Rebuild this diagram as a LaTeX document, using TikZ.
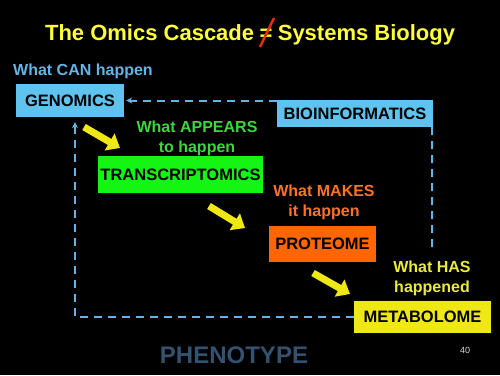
\documentclass[tikz,border=0pt]{standalone}
\usepackage{fontspec}
\setmainfont{Liberation Sans}
\usetikzlibrary{arrows.meta, calc, positioning}
\definecolor{myblue1}{RGB}{95, 195, 240}
\definecolor{myblue2}{RGB}{100, 180, 230}
\definecolor{mygreen1}{RGB}{20, 245, 20}
\definecolor{mygreen2}{RGB}{60, 215, 60}
\definecolor{myorange1}{RGB}{255, 102, 0}
\definecolor{myorange2}{RGB}{255, 115, 35}
\definecolor{myyellow1}{RGB}{240, 232, 20}
\definecolor{myyellow2}{RGB}{235, 235, 60}
\definecolor{mytitle}{RGB}{255, 255, 60}
\definecolor{myred1}{RGB}{230, 45, 20}
\definecolor{myslate}{RGB}{52, 82, 112}

\begin{document}
\begin{tikzpicture}[x=1pt, y=-1pt,
    omicsbox/.style={inner sep=0pt, text=black, font=\fontsize{16.5}{19}\selectfont\bfseries},
    whatlabel/.style={inner sep=0pt, align=center, font=\fontsize{16}{20}\selectfont\bfseries},
    titletext/.style={inner sep=0pt, text=mytitle, font=\fontsize{22}{25}\selectfont\bfseries},
    feedback/.style={myblue2, line width=2pt, dash pattern=on 8pt off 6pt},
    cascade/.style={myyellow1, line width=7pt, -{Triangle[length=12pt, width=19pt]}}]
% Background
\fill[black] (0,0) rectangle (500,375);
\useasboundingbox (0,0) rectangle (500,375);
% Title
\node[titletext, anchor=base] (eq) at (266,40) {=};
\node[titletext, anchor=base east] (tleft) at ([xshift=-5pt]eq.base west) {The Omics Cascade};
\node[titletext, anchor=base west] (tright) at ([xshift=5pt]eq.base east) {Systems Biology};
\draw[myred1, line width=2.5pt] ($(eq.base)+(8,-22)$) -- ($(eq.base)+(-6,7)$);
% Boxes
\node[omicsbox, fill=myblue1, minimum width=108pt, minimum height=33pt] (genomics) at (70,100.5) {GENOMICS};
\node[omicsbox, fill=myblue1, minimum width=156pt, minimum height=27pt] (bioinf) at (355,113.5) {BIOINFORMATICS};
\node[omicsbox, fill=mygreen1, minimum width=165pt, minimum height=37pt] (transcr) at (180.5,174.5) {TRANSCRIPTOMICS};
\node[omicsbox, fill=myorange1, minimum width=107pt, minimum height=36pt] (proteome) at (322.5,244) {PROTEOME};
\node[omicsbox, fill=myyellow1, minimum width=137pt, minimum height=32pt] (metabolome) at (422.5,317) {METABOLOME};
% Labels
\node[whatlabel, text=myblue2, anchor=west] (canlbl) at (13,71) {What CAN happen};
\node[whatlabel, text=mygreen2] (appearslbl) at (197,138) {What APPEARS\\to happen};
\node[whatlabel, text=myorange2] (makeslbl) at (324,202) {What MAKES\\it happen};
\node[whatlabel, text=myyellow2] (haslbl) at (432,278) {What HAS\\happened};
\node[inner sep=0pt, text=myslate, font=\fontsize{24}{28}\selectfont\bfseries] (phenotype) at (234,355) {PHENOTYPE};
\node[inner sep=0pt, text=white!85!black, font=\fontsize{9}{10}\selectfont] (pagenum) at (465,350) {40};
% Cascade arrows
\coordinate (a1s) at (84,127);
\coordinate (a1e) at (120,148);
\coordinate (a2s) at (209,206);
\coordinate (a2e) at (245,228);
\coordinate (a3s) at (313,273);
\coordinate (a3e) at (350,294);
\draw[cascade] (a1s) -- (a1e);
\draw[cascade] (a2s) -- (a2e);
\draw[cascade] (a3s) -- (a3e);
% Feedback loops
\coordinate (rightend) at (432,253);
\draw[feedback, -{Stealth[length=6pt, width=6pt]}] (genomics.east -| bioinf.west) -- ([xshift=2pt]genomics.east);
\draw[feedback] ([xshift=-1pt]bioinf.south east) -- (rightend);
\draw[feedback, -{Stealth[length=6pt, width=6pt]}] (metabolome.west) -| ([xshift=5pt, yshift=-5pt]genomics.south);
\end{tikzpicture}
\end{document}
